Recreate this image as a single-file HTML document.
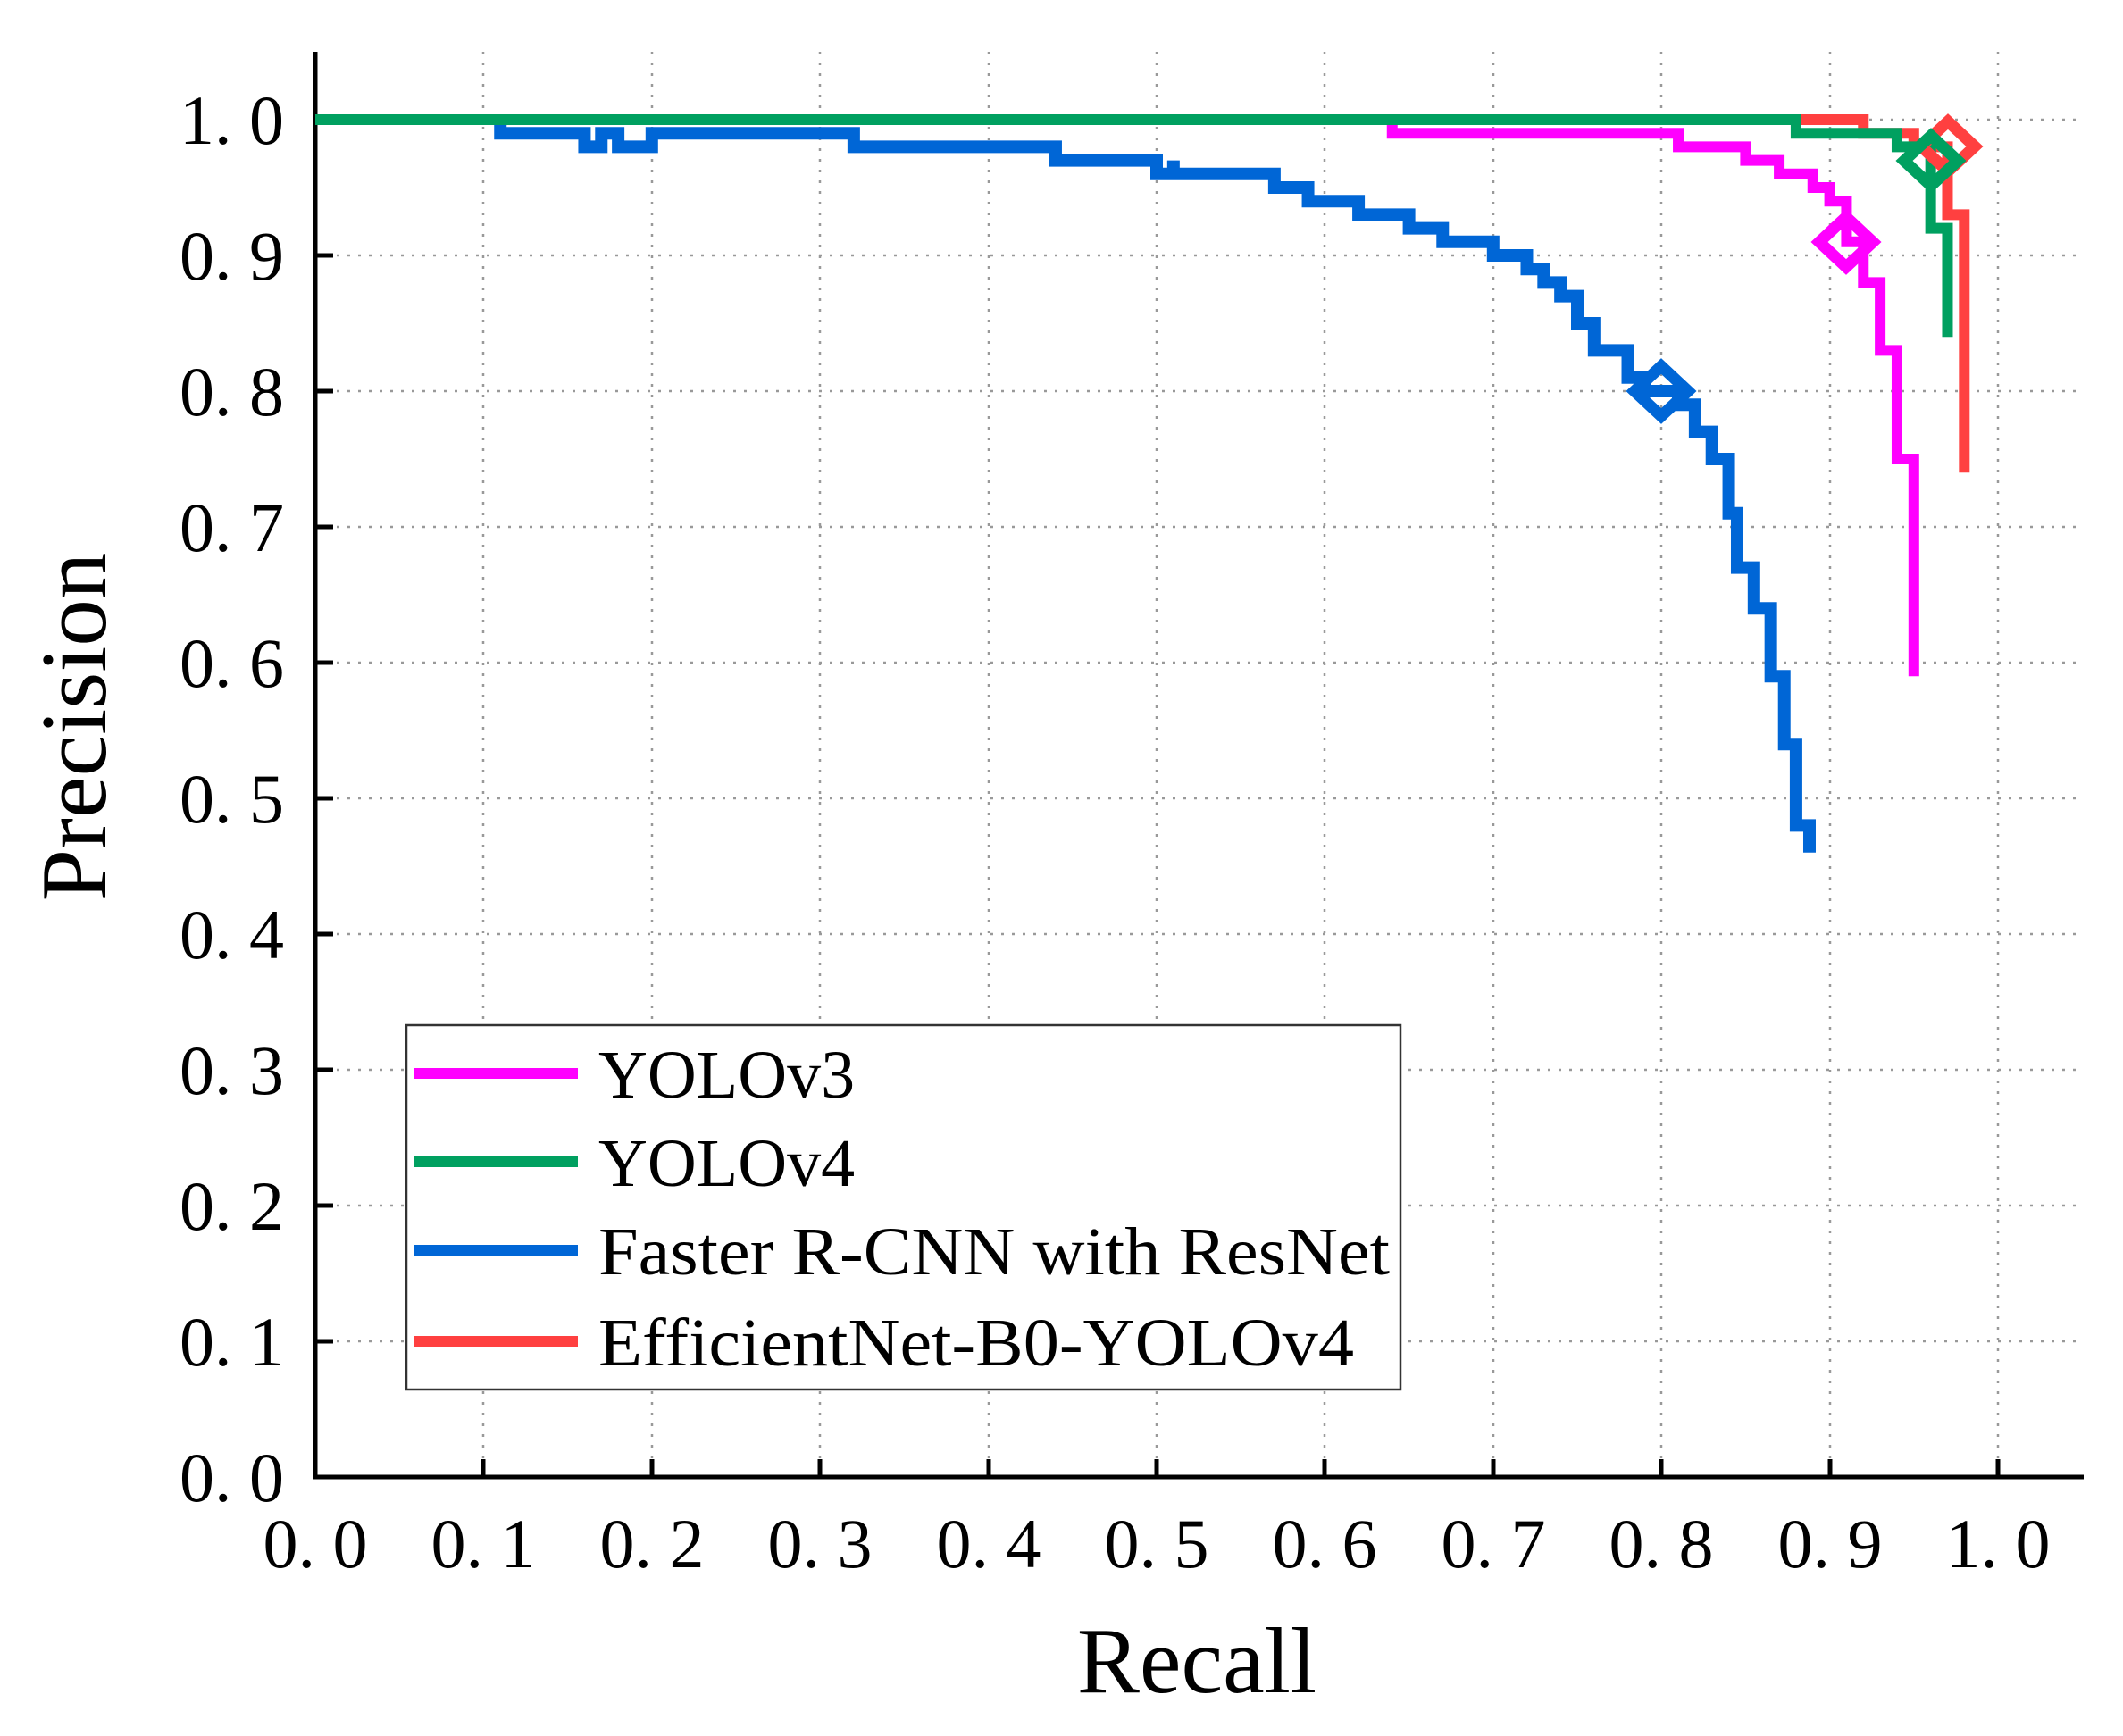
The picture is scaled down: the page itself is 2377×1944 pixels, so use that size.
<!DOCTYPE html>
<html><head><meta charset="utf-8"><style>html,body{margin:0;padding:0;background:#fff}</style></head>
<body>
<svg width="2377" height="1939" viewBox="0 0 2377 1939" xmlns="http://www.w3.org/2000/svg">
<rect width="2377" height="1939" fill="#fff"/>
<g stroke="#999" stroke-width="2.5" stroke-dasharray="3 9">
<line x1="541" y1="58" x2="541" y2="1654"/><line x1="730" y1="58" x2="730" y2="1654"/><line x1="918" y1="58" x2="918" y2="1654"/><line x1="1107" y1="58" x2="1107" y2="1654"/><line x1="1295" y1="58" x2="1295" y2="1654"/><line x1="1483" y1="58" x2="1483" y2="1654"/><line x1="1672" y1="58" x2="1672" y2="1654"/><line x1="1860" y1="58" x2="1860" y2="1654"/><line x1="2049" y1="58" x2="2049" y2="1654"/><line x1="2237" y1="58" x2="2237" y2="1654"/>
<line x1="353" y1="134" x2="2333" y2="134"/><line x1="353" y1="286" x2="2333" y2="286"/><line x1="353" y1="438" x2="2333" y2="438"/><line x1="353" y1="590" x2="2333" y2="590"/><line x1="353" y1="742" x2="2333" y2="742"/><line x1="353" y1="894" x2="2333" y2="894"/><line x1="353" y1="1046" x2="2333" y2="1046"/><line x1="353" y1="1198" x2="2333" y2="1198"/><line x1="353" y1="1350" x2="2333" y2="1350"/><line x1="353" y1="1502" x2="2333" y2="1502"/>
</g>
<g stroke="#000" stroke-width="5">
<line x1="353" y1="58" x2="353" y2="1656"/><line x1="351" y1="1654" x2="2333" y2="1654"/>
<path d="M541 1654v-20M730 1654v-20M918 1654v-20M1107 1654v-20M1295 1654v-20M1483 1654v-20M1672 1654v-20M1860 1654v-20M2049 1654v-20M2237 1654v-20M353 134h20M353 286h20M353 438h20M353 590h20M353 742h20M353 894h20M353 1046h20M353 1198h20M353 1350h20M353 1502h20"/>
</g>
<g transform="translate(353,1654) scale(1884,-1520)" fill="none" stroke-linejoin="miter">
<polyline vector-effect="non-scaling-stroke" stroke="#0066d6" stroke-width="14" points="0.11,1 0.11,0.99 0.16,0.99 0.16,0.98 0.17,0.98 0.17,0.99 0.18,0.99 0.18,0.98 0.2,0.98 0.2,0.99 0.32,0.99 0.32,0.98 0.44,0.98 0.44,0.97 0.5,0.97 0.5,0.96 0.51,0.96 0.51,0.97 0.51,0.96 0.57,0.96 0.57,0.95 0.59,0.95 0.59,0.94 0.62,0.94 0.62,0.93 0.65,0.93 0.65,0.92 0.67,0.92 0.67,0.91 0.7,0.91 0.7,0.9 0.72,0.9 0.72,0.89 0.73,0.89 0.73,0.88 0.74,0.88 0.74,0.87 0.75,0.87 0.75,0.85 0.76,0.85 0.76,0.83 0.78,0.83 0.78,0.81 0.79,0.81 0.79,0.8 0.81,0.8 0.81,0.79 0.82,0.79 0.82,0.77 0.83,0.77 0.83,0.75 0.84,0.75 0.84,0.71 0.845,0.71 0.845,0.67 0.855,0.67 0.855,0.64 0.865,0.64 0.865,0.59 0.873,0.59 0.873,0.54 0.88,0.54 0.88,0.48 0.888,0.48 0.888,0.46"/>
<polyline vector-effect="non-scaling-stroke" stroke="#ff00ff" stroke-width="12" points="0.64,1 0.64,0.99 0.81,0.99 0.81,0.98 0.85,0.98 0.85,0.97 0.87,0.97 0.87,0.96 0.89,0.96 0.89,0.95 0.9,0.95 0.9,0.94 0.91,0.94 0.91,0.91 0.92,0.91 0.92,0.88 0.93,0.88 0.93,0.83 0.94,0.83 0.94,0.75 0.95,0.75 0.95,0.59"/>
<polyline vector-effect="non-scaling-stroke" stroke="#ff4040" stroke-width="12" points="0.88,1 0.92,1 0.92,0.99 0.95,0.99 0.95,0.98 0.97,0.98 0.97,0.93 0.98,0.93 0.98,0.74"/>
<polyline vector-effect="non-scaling-stroke" stroke="#00a060" stroke-width="12" points="0,1 0.88,1 0.88,0.99 0.94,0.99 0.94,0.98 0.96,0.98 0.96,0.92 0.97,0.92 0.97,0.84"/>
</g>
<g fill="none" stroke-width="13">
<path d="M1860 410l30 28-30 28-30-28z" stroke="#0066d6"/>
<path d="M2067 243l30 28-30 28-30-28z" stroke="#ff00ff"/>
<path d="M2181 136l30 28-30 28-30-28z" stroke="#ff4040"/>
<path d="M2162 152l30 28-30 28-30-28z" stroke="#00a060"/>
</g>
<g font-family="Liberation Serif, serif" font-size="78" fill="#000">
<g text-anchor="end">
<text x="318" y="161">1. 0</text><text x="318" y="313">0. 9</text><text x="318" y="465">0. 8</text><text x="318" y="617">0. 7</text><text x="318" y="769">0. 6</text><text x="318" y="921">0. 5</text><text x="318" y="1073">0. 4</text><text x="318" y="1225">0. 3</text><text x="318" y="1377">0. 2</text><text x="318" y="1529">0. 1</text><text x="318" y="1681">0. 0</text>
</g>
<g text-anchor="middle">
<text x="353" y="1755">0. 0</text><text x="541" y="1755">0. 1</text><text x="730" y="1755">0. 2</text><text x="918" y="1755">0. 3</text><text x="1107" y="1755">0. 4</text><text x="1295" y="1755">0. 5</text><text x="1483" y="1755">0. 6</text><text x="1672" y="1755">0. 7</text><text x="1860" y="1755">0. 8</text><text x="2049" y="1755">0. 9</text><text x="2237" y="1755">1. 0</text>
<text x="1340" y="1895" font-size="105">Recall</text>
<text x="0" y="0" font-size="105" transform="translate(118,814) rotate(-90)">Precision</text>
</g>
</g>
<rect x="455" y="1148" width="1113" height="408" fill="#fff" stroke="#333" stroke-width="2.5"/>
<g stroke-width="12">
<line x1="464" y1="1202" x2="647" y2="1202" stroke="#ff00ff"/>
<line x1="464" y1="1301" x2="647" y2="1301" stroke="#00a060"/>
<line x1="464" y1="1400" x2="647" y2="1400" stroke="#0066d6"/>
<line x1="464" y1="1502" x2="647" y2="1502" stroke="#ff4040"/>
</g>
<g font-family="Liberation Serif, serif" font-size="76" fill="#000">
<text x="670" y="1229">YOLOv3</text>
<text x="670" y="1328">YOLOv4</text>
<text x="670" y="1427" textLength="886" lengthAdjust="spacingAndGlyphs">Faster R-CNN with ResNet</text>
<text x="670" y="1529" textLength="846" lengthAdjust="spacingAndGlyphs">EfficientNet-B0-YOLOv4</text>
</g>
</svg>
</body></html>
